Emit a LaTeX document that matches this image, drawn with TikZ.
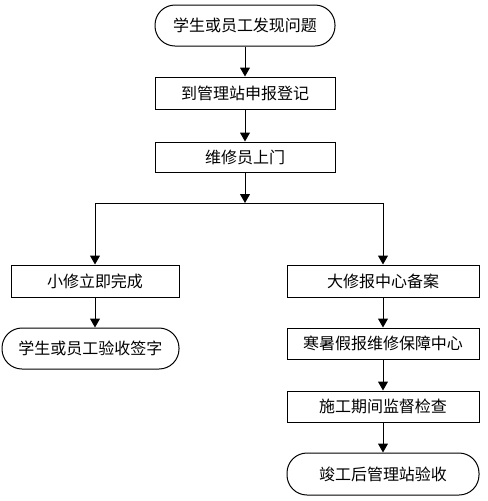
\documentclass[tikz,border=0pt]{standalone}
\usepackage{fontspec}
\newfontfamily\cjk{Noto Sans CJK SC}
\usetikzlibrary{arrows.meta}
\tikzset{
  bx/.style={draw,line width=0.75pt,inner sep=0pt,font=\cjk\fontsize{12pt}{14pt}\selectfont},
  term/.style={bx,rounded corners=15pt},
  arr/.style={line width=0.75pt,-{Triangle[length=6.75pt,width=7.5pt]}}
}
\begin{document}
\begin{tikzpicture}[x=0.75pt,y=-0.75pt,line width=0.75pt]
\useasboundingbox (0,0) rectangle (488,501);
\node[term,minimum width=135pt,minimum height=30.75pt](faxian)at(245,25.5){学生或员工发现问题};
\node[bx,minimum width=135pt,minimum height=24pt](dengji)at(245,93){到管理站申报登记};
\node[bx,minimum width=135pt,minimum height=22.5pt](shangmen)at(245,157){维修员上门};
\node[bx,minimum width=126pt,minimum height=24pt](xiaoxiu)at(95,281){小修立即完成};
\node[term,minimum width=132.75pt,minimum height=30.75pt](qianzi)at(90.5,348.5){学生或员工验收签字};
\node[bx,minimum width=144pt,minimum height=24pt](daxiu)at(383,281){大修报中心备案};
\node[bx,minimum width=144pt,minimum height=23.25pt](baozhang)at(383,343.5){寒暑假报维修保障中心};
\node[bx,minimum width=144pt,minimum height=23.25pt](jiandu)at(383,406.5){施工期间监督检查};
\node[term,minimum width=144pt,minimum height=31.5pt](yanshou)at(383,474){竣工后管理站验收};
\coordinate(fen)at(245,203);
\coordinate(zuo)at(95,203);
\coordinate(you)at(383,203);
\draw[arr](faxian)--(dengji);
\draw[arr](dengji)--(shangmen);
\draw[arr](shangmen)--(fen);
\draw(zuo)--(you);
\draw[arr](zuo)--(xiaoxiu);
\draw[arr](you)--(daxiu);
\draw[arr](xiaoxiu.south)--(xiaoxiu.south|-qianzi.north);
\draw[arr](daxiu)--(baozhang);
\draw[arr](baozhang)--(jiandu);
\draw[arr](jiandu)--(yanshou);
\end{tikzpicture}
\end{document}
